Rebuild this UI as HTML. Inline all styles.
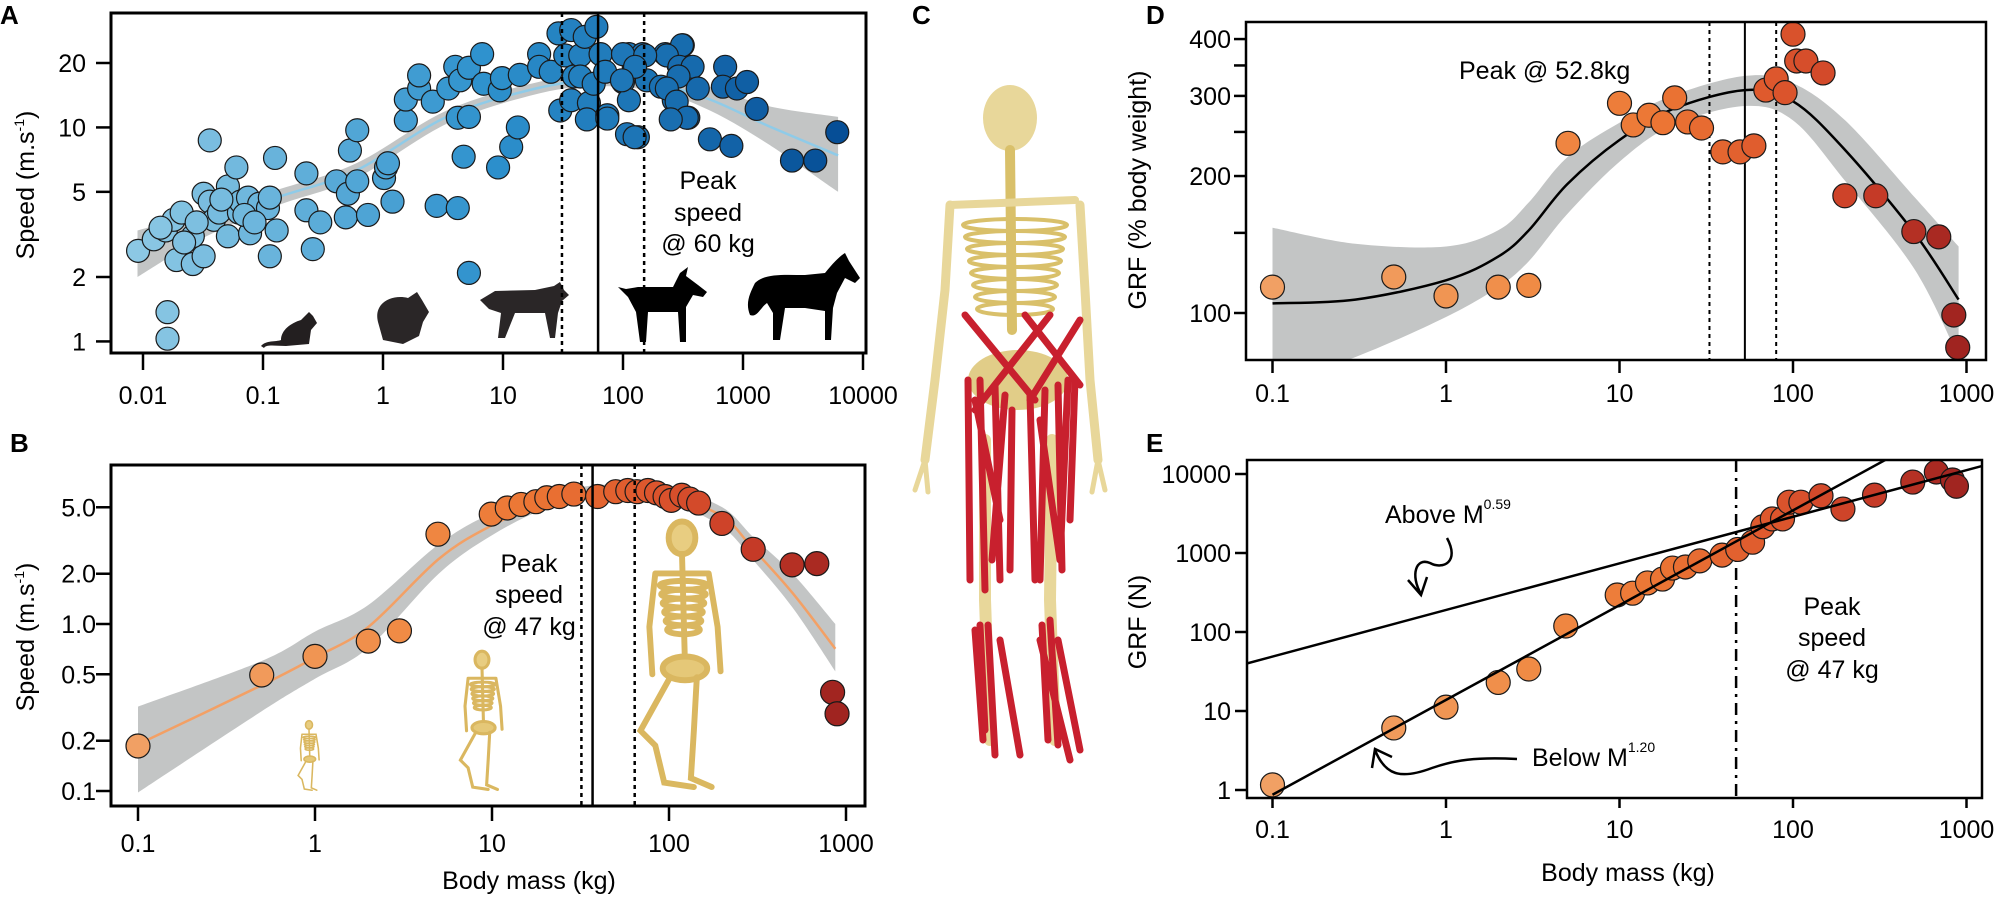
<!DOCTYPE html>
<html><head><meta charset="utf-8"><title>Body mass vs speed and GRF</title>
<style>
html,body{margin:0;padding:0;background:#fff;}
svg{display:block;font-family:"Liberation Sans",Arial,sans-serif;}
</style></head>
<body>
<svg id="fig" width="1999" height="897" viewBox="0 0 1999 897" xmlns="http://www.w3.org/2000/svg">
<defs>
<clipPath id="clipA"><rect x="111" y="13" width="755" height="340"/></clipPath>
<clipPath id="clipB"><rect x="111" y="465" width="754" height="341"/></clipPath>
<clipPath id="clipD"><rect x="1246" y="22" width="740" height="338"/></clipPath>
<clipPath id="clipE"><rect x="1247" y="460" width="735" height="338"/></clipPath>
</defs>
<g font-size="26" font-weight="bold">
<text x="0" y="24">A</text>
<text x="10" y="452">B</text>
<text x="912" y="24">C</text>
<text x="1146" y="24">D</text>
<text x="1146" y="452">E</text>
</g>
<g font-size="25">
<text transform="translate(34,185) rotate(-90)" text-anchor="middle">Speed (m.s<tspan font-size="14" dy="-10">-1</tspan><tspan dy="10">)</tspan></text>
<text transform="translate(34,637) rotate(-90)" text-anchor="middle">Speed (m.s<tspan font-size="14" dy="-10">-1</tspan><tspan dy="10">)</tspan></text>
<text x="529" y="889" text-anchor="middle">Body mass (kg)</text>
<text transform="translate(1146,190) rotate(-90)" text-anchor="middle">GRF (% body weight)</text>
<text transform="translate(1146,622) rotate(-90)" text-anchor="middle">GRF (N)</text>
<text x="1628" y="881" text-anchor="middle">Body mass (kg)</text>
<text x="1385" y="523">Above M<tspan font-size="14" dy="-14">0.59</tspan></text>
<text x="1532" y="766">Below M<tspan font-size="14" dy="-14">1.20</tspan></text>
</g>
<g id="layer"></g>
</svg>
<script>
// ---------- Panel A data ----------
const massA = [0.0091,0.0123,0.0155,0.018,0.021,0.019,0.026,0.032,0.026,0.036,0.032,0.036,0.039,0.043,0.051,0.051,0.06,0.063,0.065,0.075,0.078,0.093,0.11,0.114,0.126,0.13,0.114,0.23,0.23,0.26,0.30,0.41,0.49,0.51,0.61,0.53,0.61,0.75,1.02,1.06,1.1,1.2,1.55,1.55,2.0,2.0,2.6,2.8,3.5,4.0,4.2,4.4,5.2,4.7,4.2,5.2,6.7,5.2,6.9,9.1,9.4,9.8,11.7,13.3,13.8,20,20,25,30,29,33,37,39,37,44,48,44,52,57,50,60,65,71,74,100,112,112,123,108,133,146,158,207,225,290,315,265,350,310,232,295,380,290,232,420,280,340,250,710,680,890,1080,1300,530,800,2560,4000,6100,125,74,100,153,126,98,0.016,0.016,0.014,0.022,0.028,0.045,0.07,0.085];
const speedA = [2.65,3.0,3.3,3.7,4.0,2.4,2.3,2.5,3.1,8.7,4.9,4.5,3.7,4.0,3.1,5.3,6.5,4.0,4.5,4.7,3.2,4.4,4.2,4.7,7.2,3.3,2.5,6.1,4.1,2.7,3.6,5.6,3.8,4.9,5.6,7.8,9.7,3.9,5.8,6.5,6.8,4.5,10.8,13.5,15.2,17.5,13.2,4.3,15.2,19.2,4.2,16.6,19,7.3,11.1,11.2,22,2.09,16,6.5,14.9,17,8.1,10,17.6,22,19.2,18.2,12,27.5,21.7,28.5,17.3,13.4,21.7,26.5,17.3,13.0,16,10.9,29.5,22,18.2,11.4,16.3,22,13.4,19.2,9.3,9.0,22,16.6,15.5,22,19.6,24.2,13.4,11.1,24.2,21.7,19.2,19.2,17.3,15.2,15.2,13.2,11.1,10.9,19.2,15.5,15.2,16.3,12.2,8.8,8.2,7.0,7.0,9.5,9.0,11.0,22,21.7,19.2,16.6,1.37,1.03,3.4,2.9,3.6,4.6,3.9,3.6];
const fitMassA = [0.009,0.03,0.13,0.6,3.4,18.8,62,200,530,1600,6200];
const fitA = [2.6,3.5,4.7,6.3,11.2,15.2,16.6,15.8,13.5,10.2,7.4];
const bandUpA = [3.3,4.0,5.1,6.8,12,16.2,17.6,17,15.5,12.6,11.2];
const bandLoA = [2.0,3.0,4.3,5.8,10.4,14.3,15.6,14.6,12,8.4,5.0];
const xTicksA = [0.01,0.1,1,10,100,1000,10000];
const xTickLabelsA = ["0.01","0.1","1","10","100","1000","10000"];
const yTicksA = [1,2,5,10,20];
const vlinesA = [31,62,150];
// ---------- Panel B data ----------
const massB = [0.1,0.5,1,2,3,4.95,9.9,12.2,14.6,17.7,20.4,24,29,39.5,50,58.5,66,76,85,95,103,118,131,147,199,299,496,684,840,890];
const speedB = [0.186,0.495,0.64,0.79,0.91,3.45,4.55,4.95,5.2,5.4,5.7,5.8,6.0,5.8,6.2,6.3,6.2,6.3,6.1,5.8,5.5,5.9,5.6,5.3,4.0,2.8,2.26,2.3,0.39,0.29];
const fitMassB = [0.1,0.5,1,2,5,10,20,40,100,200,300,500,870];
const fitB = [0.19,0.43,0.63,0.96,2.45,3.9,5.3,6.2,5.8,4.4,2.8,1.53,0.71];
const bandUpB = [0.32,0.6,0.9,1.3,3.0,4.6,5.8,6.8,6.5,5.0,3.3,2.0,1.0];
const bandLoB = [0.098,0.3,0.47,0.72,2.0,3.4,4.9,5.8,5.3,3.8,2.4,1.25,0.52];
const xTicksB = [0.1,1,10,100,1000];
const xTickLabelsB = ["0.1","1","10","100","1000"];
const yTicksB = [0.1,0.2,0.5,1,2,5];
const yTickLabelsB = ["0.1","0.2","0.5","1.0","2.0","5.0"];
const vlinesB = [32,37,64];
// ---------- Panel D data ----------
const massD = [0.1,0.5,1,2,3,5.05,10,12,14.8,17.8,20.8,24.7,29.7,39.4,49.5,59.5,69.7,80,90,100,105,118.7,149,199,300,497,692,845,890];
const grfD = [114,120,109,114,115,236,289,259,272,262,297,263,255,226,226,233,309,327,305,410,358,358,337,181,181,151,147,99,84];
const fitMassD = [0.1,0.3,1,2,3,5,10,20,52.8,100,200,500,900];
const fitD = [105,107,118,133,152,192,240,280,309,292,228,150,107];
const bandUpD = [154,142,140,152,175,220,262,300,332,320,265,180,140];
const bandLoD = [70,80,98,114,130,165,215,258,285,265,195,125,80];
const xTicksD = [0.1,1,10,100,1000];
const xTickLabelsD = ["0.1","1","10","100","1000"];
const yTicksD = [100,200,300,400];
const yMinorD = [150,250,350];
const vlinesD = [33,52.8,80];
// ---------- Panel E data ----------
const massE = [0.1,0.5,1,2,3,4.9,9.7,11.9,14.5,17.7,20.2,24,29,39,48,58.5,67,76,87,95,111,145,194,295,490,670,830,875];
const grfE = [1.16,6.1,11.2,23,34,119,294,310,418,468,645,665,795,940,1110,1370,2150,2700,2700,4400,4400,5300,3600,5400,7900,10600,8400,7000];
const fitAbove = [190,0.59];
const fitBelow = [13.8,1.20];
const xTicksE = [0.1,1,10,100,1000];
const xTickLabelsE = ["0.1","1","10","100","1000"];
const yTicksE = [1,10,100,1000,10000];
const peakE = 47;

const NS = 'http://www.w3.org/2000/svg';
const layer = document.getElementById('layer');
const L = Math.log10;
function mk(tag, attrs, parent) {
  const e = document.createElementNS(NS, tag);
  for (const k in attrs) e.setAttribute(k, attrs[k]);
  (parent || layer).appendChild(e);
  return e;
}
function segs(pts) {
  let d = '';
  for (let i = 0; i < pts.length - 1; i++) {
    const p0 = pts[i - 1] || pts[i], p1 = pts[i], p2 = pts[i + 1], p3 = pts[i + 2] || p2;
    const c1 = [p1[0] + (p2[0] - p0[0]) / 6, p1[1] + (p2[1] - p0[1]) / 6];
    const c2 = [p2[0] - (p3[0] - p1[0]) / 6, p2[1] - (p3[1] - p1[1]) / 6];
    d += 'C' + c1[0].toFixed(1) + ',' + c1[1].toFixed(1) + ' ' + c2[0].toFixed(1) + ',' + c2[1].toFixed(1) + ' ' + p2[0].toFixed(1) + ',' + p2[1].toFixed(1);
  }
  return d;
}
function smooth(pts) { return 'M' + pts[0][0].toFixed(1) + ',' + pts[0][1].toFixed(1) + segs(pts); }
function ramp(stops, t) {
  t = Math.max(0, Math.min(1, t));
  const s = t * (stops.length - 1), i = Math.min(stops.length - 2, Math.floor(s)), f = s - i;
  const c = stops[i].map((v, k) => Math.round(v + (stops[i + 1][k] - v) * f));
  return 'rgb(' + c.join(',') + ')';
}
const blues = [[140,200,228],[45,145,205],[6,78,150]];
const oranges = [[241,160,100],[240,140,70],[236,118,52],[222,88,45],[200,60,40],[160,36,32]];

function panel(cfg) {
  const g = mk('g', {});
  
  
  const plot = mk('g', {'clip-path': 'url(#' + cfg.clip + ')'}, g);
  
  
  return {g, plot};
}
function box(g, x0, y0, x1, y1, w, name) {
  const r = mk('rect', {x: x0, y: y0, width: x1 - x0, height: y1 - y0, fill: 'none', stroke: '#000', 'stroke-width': w}, g);
  
  
}
function xAxis(g, ticks, labels, xf, yb, len, ly, name) {
  ticks.forEach((t, i) => {
    const x = xf(t);
    const tk = mk('line', {x1: x, x2: x, y1: yb, y2: yb + len, stroke: '#000', 'stroke-width': 2.5}, g);
    
    
    const tx = mk('text', {x: x, y: ly, 'text-anchor': 'middle', 'font-size': 25}, g);
    
    
    tx.textContent = labels[i];
  });
}
function yAxis(g, ticks, labels, yf, xl, len, lx, name) {
  ticks.forEach((t, i) => {
    const y = yf(t);
    const tk = mk('line', {x1: xl - len, x2: xl, y1: y, y2: y, stroke: '#000', 'stroke-width': 2.5}, g);
    
    
    if (labels) {
      const tx = mk('text', {x: lx, y: y + 9, 'text-anchor': 'end', 'font-size': 25}, g);
      
      
      tx.textContent = labels[i];
    }
  });
}
function band(plot, ms, up, lo, xf, yf, name) {
  const top = ms.map((m, i) => [xf(m), yf(up[i])]);
  const bot = ms.map((m, i) => [xf(m), yf(lo[i])]).reverse();
  const d = smooth(top) + 'L' + bot[0][0].toFixed(1) + ',' + bot[0][1].toFixed(1) + segs(bot) + 'Z';
  const p = mk('path', {d: d, fill: '#c3c5c5', stroke: 'none'}, plot);
  
  
}
function curve(plot, ms, vs, xf, yf, color, w, name) {
  const p = mk('path', {d: smooth(ms.map((m, i) => [xf(m), yf(vs[i])])), fill: 'none', stroke: color, 'stroke-width': w}, plot);
  
  
}
function points(plot, ms, vs, xf, yf, r, colorFn, name) {
  ms.forEach((m, i) => {
    const c = mk('circle', {cx: xf(m), cy: yf(vs[i]), r: r, fill: colorFn(m), stroke: '#1a1a1a', 'stroke-width': 1.2}, plot);
    
    
  });
}
function vline(plot, x, y0, y1, dash, w, name) {
  const a = {x1: x, x2: x, y1: y0, y2: y1, stroke: '#000', 'stroke-width': w};
  if (dash) a['stroke-dasharray'] = dash;
  const l = mk('line', a, plot);
  
  
}
function multiText(g, x, ys, lines, name) {
  lines.forEach((s, i) => {
    const t = mk('text', {x: x, y: ys[i], 'text-anchor': 'middle', 'font-size': 25}, g);
    
    
    t.textContent = s;
  });
}
const orangeColor = m => ramp(oranges, Math.pow(Math.max(0, (L(m) + 1) / (L(900) + 1)), 1.6));

// ===== Panel A =====
const xA = m => 383 + 120 * L(m);
const yA = v => 63 - 214 * (L(v) - L(20));
{
  const {g, plot} = panel({name: 'panel-a', clip: 'clipA'});
  band(plot, fitMassA, bandUpA, bandLoA, xA, yA, 'confidence-band-a');
  curve(plot, fitMassA, fitA, xA, yA, '#8fcbe8', 2.5, 'fit-line-a');
  const sil = [
    ['mouse-silhouette', 261, 308, 56, 40, '#231f20', 'M0,38 C5,32 15,34 20,32 C20,22 30,15 40,12 L48,4 L52,8 L56,15 L50,22 L48,36 L25,38 C15,38 5,36 3,40 Z'],
    ['rat-silhouette', 373, 292, 56, 52, '#2a2627', 'M5,30 C0,10 20,2 35,6 L44,0 L49,8 L56,20 L50,30 L46,44 L30,52 L10,48 Z'],
    ['dog-silhouette', 480, 282, 89, 56, '#2a2627', 'M0,18 L15,9 L55,8 L74,4 L80,0 L84,8 L89,13 L82,19 L78,31 L75,56 L70,56 L65,31 L35,31 L25,56 L18,56 L21,31 L9,27 Z'],
    ['goat-silhouette', 618, 267, 89, 75, '#000', 'M0,20 L8,22 L20,20 L55,20 L62,6 L70,0 L68,9 L80,18 L89,25 L85,30 L75,28 L68,40 L68,75 L62,75 L60,45 L30,45 L28,75 L22,75 L18,45 L10,30 Z'],
    ['horse-silhouette', 745, 253, 115, 87, '#000', 'M10,30 C20,20 40,22 60,22 L80,20 C88,10 95,3 100,0 L104,8 L115,25 L110,30 L100,25 L92,40 L88,55 L86,87 L80,87 L80,58 L60,55 L40,55 L35,87 L28,87 L28,60 L22,50 C15,55 12,65 5,62 C0,50 5,40 10,30 Z']
  ];
  sil.forEach(s => {
    const p = mk('path', {d: s[6], fill: s[5], transform: 'translate(' + s[1] + ',' + s[2] + ')'}, plot);
    
    
  });
  points(plot, massA, speedA, xA, yA, 11.5, m => ramp(blues, (L(m) + 2) / (L(6000) + 2)), 'data-point-a');
  vline(plot, xA(vlinesA[0]), 13, 353, '4,4', 2.5, 'ci-lower-line-a');
  vline(plot, xA(vlinesA[1]), 13, 353, null, 2.5, 'peak-line-a');
  vline(plot, xA(vlinesA[2]), 13, 353, '4,4', 2.5, 'ci-upper-line-a');
  multiText(g, 708, [189, 221, 252], ['Peak', 'speed', '@ 60 kg'], 'peak-annotation-a');
  box(g, 111, 13, 866, 353, 3, 'plot-frame-a');
  xAxis(g, xTicksA, xTickLabelsA, xA, 353, 17, 404, 'x-axis-a');
  yAxis(g, yTicksA, yTicksA.map(String), yA, 111, 15, 86, 'y-axis-a');
}

// ===== Panel B =====
const xB = m => 315 + 177 * L(m);
const yB = v => 624 - 167 * L(v);
function skeleton(parent, cx, top, h, name) {
  const s = h / 180;
  const g = mk('g', {transform: 'translate(' + cx + ',' + top + ') scale(' + s + ')', stroke: '#d6b04f', fill: 'none', 'stroke-width': 4, 'stroke-linecap': 'round', opacity: 0.9}, parent);
  
  
  mk('ellipse', {cx: 0, cy: 10, rx: 9, ry: 11, fill: '#e6c874'}, g);
  mk('path', {d: 'M0,21 L2,95'}, g);
  for (let i = 0; i < 6; i++) mk('ellipse', {cx: 1, cy: 42 + i * 6, rx: 16 - i, ry: 3}, g);
  mk('path', {d: 'M-18,34 L18,34 M-18,34 L-22,70 L-20,102 M18,34 L24,70 L26,100'}, g);
  mk('ellipse', {cx: 2, cy: 98, rx: 15, ry: 8, fill: '#e3c36a'}, g);
  mk('path', {d: 'M-8,104 L-28,140 L-18,150 L-12,175 L8,178 M10,104 L8,140 L6,172 L20,178'}, g);
}
{
  const {g, plot} = panel({name: 'panel-b', clip: 'clipB'});
  band(plot, fitMassB, bandUpB, bandLoB, xB, yB, 'confidence-band-b');
  curve(plot, fitMassB, fitB, xB, yB, '#f3a065', 2.5, 'fit-line-b');
  skeleton(plot, 309, 721, 70, 'small-skeleton-b');
  skeleton(plot, 482, 652, 139, 'medium-skeleton-b');
  skeleton(plot, 682, 523, 267, 'large-skeleton-b');
  points(plot, massB, speedB, xB, yB, 12, orangeColor, 'data-point-b');
  vline(plot, xB(vlinesB[0]), 465, 806, '4,4', 2.5, 'ci-lower-line-b');
  vline(plot, xB(vlinesB[1]), 465, 806, null, 2.5, 'peak-line-b');
  vline(plot, xB(vlinesB[2]), 465, 806, '4,4', 2.5, 'ci-upper-line-b');
  multiText(g, 529, [572, 603, 635], ['Peak', 'speed', '@ 47 kg'], 'peak-annotation-b');
  box(g, 111, 465, 865, 806, 3, 'plot-frame-b');
  xAxis(g, xTicksB, xTickLabelsB, xB, 806, 15, 852, 'x-axis-b');
  yAxis(g, yTicksB, yTickLabelsB, yB, 111, 15, 96, 'y-axis-b');
}

// ===== Panel C (musculoskeletal model) =====
{
  const g = mk('g', {'stroke-linecap': 'round'});
  
  
  const bone = '#e8d79a', bone2 = '#d9c06a', red = '#c8202e';
  mk('ellipse', {cx: 1010, cy: 118, rx: 27, ry: 33, fill: bone}, g);
  mk('path', {d: 'M1010,150 L1012,330', stroke: bone2, 'stroke-width': 10, fill: 'none'}, g);
  mk('path', {d: 'M950,205 L1075,200', stroke: bone, 'stroke-width': 8, fill: 'none'}, g);
  for (let i = 0; i < 8; i++) mk('ellipse', {cx: 1015, cy: 225 + i * 12, rx: 52 - i * 2, ry: 6, fill: 'none', stroke: bone2, 'stroke-width': 4}, g);
  mk('path', {d: 'M950,205 L945,290 L935,380 L925,460 M1080,205 L1085,290 L1090,380 L1098,460', stroke: bone, 'stroke-width': 9, fill: 'none'}, g);
  mk('path', {d: 'M925,460 L915,490 M925,460 L928,492 M1098,460 L1105,490 M1098,460 L1092,492', stroke: bone, 'stroke-width': 5, fill: 'none'}, g);
  mk('ellipse', {cx: 1018, cy: 380, rx: 50, ry: 30, fill: bone2, opacity: 0.8}, g);
  mk('path', {d: 'M985,440 L985,600 L990,740 M1052,440 L1050,600 L1055,740', stroke: bone, 'stroke-width': 12, fill: 'none'}, g);
  const musc = 'M965,315 L1035,400 M1050,315 L975,410 M1025,315 L1080,385 M1080,320 L1030,400 ' +
    'M968,380 L970,580 M980,380 L985,590 M995,385 L1000,580 M1005,395 L992,560 M1012,410 L1010,570 M975,400 L1000,520 ' +
    'M1030,395 L1035,580 M1045,390 L1040,580 M1058,385 L1062,570 M1068,380 L1060,560 M1075,380 L1070,520 M1040,420 L1060,560 ' +
    'M980,625 L985,730 M988,625 L995,755 M975,630 L983,740 M1000,640 L1020,755 ' +
    'M1042,625 L1048,740 M1050,620 L1058,745 M1040,640 L1070,760 M1058,640 L1080,750';
  const m = mk('path', {d: musc, stroke: red, 'stroke-width': 7, fill: 'none'}, g);
  
  
}

// ===== Panel D =====
const xD = m => 1446 + 173.5 * L(m);
const yD = g => 313 - 455 * L(g / 100);
{
  const {g, plot} = panel({name: 'panel-d', clip: 'clipD'});
  band(plot, fitMassD, bandUpD, bandLoD, xD, yD, 'confidence-band-d');
  curve(plot, fitMassD, fitD, xD, yD, '#000', 2.5, 'fit-line-d');
  vline(plot, xD(vlinesD[0]), 22, 360, '4,4', 2, 'ci-lower-line-d');
  vline(plot, xD(vlinesD[1]), 22, 360, null, 2, 'peak-line-d');
  vline(plot, xD(vlinesD[2]), 22, 360, '4,4', 2, 'ci-upper-line-d');
  points(plot, massD, grfD, xD, yD, 12, orangeColor, 'data-point-d');
  const t = mk('text', {x: 1459, y: 79, 'font-size': 25}, g);
  
  
  t.textContent = 'Peak @ 52.8kg';
  box(g, 1246, 22, 1986, 360, 2.5, 'plot-frame-d');
  xAxis(g, xTicksD, xTickLabelsD, xD, 360, 13, 402, 'x-axis-d');
  yAxis(g, yTicksD, yTicksD.map(String), yD, 1246, 12, 1231, 'y-axis-d');
  yAxis(g, yMinorD, null, yD, 1246, 12, 1231, 'y-axis-d-minor');
}

// ===== Panel E =====
const xE = m => 1446 + 173.5 * L(m);
const yE = f => 790 - 79 * L(f);
{
  const {g, plot} = panel({name: 'panel-e', clip: 'clipE'});
  vline(plot, xE(peakE), 460, 798, '12,6,3,6', 2.5, 'peak-line-e');
  points(plot, massE, grfE, xE, yE, 12, orangeColor, 'data-point-e');
  const mA0 = 0.05, mA1 = 2000;
  const la = mk('line', {x1: xE(mA0), y1: yE(fitAbove[0] * Math.pow(mA0, fitAbove[1])), x2: xE(mA1), y2: yE(fitAbove[0] * Math.pow(mA1, fitAbove[1])), stroke: '#000', 'stroke-width': 2.5}, plot);
  
  
  const mB0 = 0.1, mB1 = 600;
  const lb = mk('line', {x1: xE(mB0), y1: yE(fitBelow[0] * Math.pow(mB0, fitBelow[1])), x2: xE(mB1), y2: yE(fitBelow[0] * Math.pow(mB1, fitBelow[1])), stroke: '#000', 'stroke-width': 2.5}, plot);
  
  
  multiText(g, 1832, [615, 646, 678], ['Peak', 'speed', '@ 47 kg'], 'peak-annotation-e');
  const a1 = mk('path', {d: 'M1447,538 C1460,562 1443,570 1430,563 C1416,557 1410,575 1421,594 M1408,580 L1421,595 L1427,577', fill: 'none', stroke: '#000', 'stroke-width': 2.5}, g);
  
  
  const a2 = mk('path', {d: 'M1517,759 C1475,757 1455,760 1432,768 C1400,780 1385,775 1375,750 M1372,768 L1375,749 L1392,757', fill: 'none', stroke: '#000', 'stroke-width': 2.5}, g);
  
  
  box(g, 1247, 460, 1982, 798, 2.5, 'plot-frame-e');
  xAxis(g, xTicksE, xTickLabelsE, xE, 798, 10, 838, 'x-axis-e');
  yAxis(g, yTicksE, yTicksE.map(String), yE, 1247, 12, 1231, 'y-axis-e');
}
</script>
</body></html>
